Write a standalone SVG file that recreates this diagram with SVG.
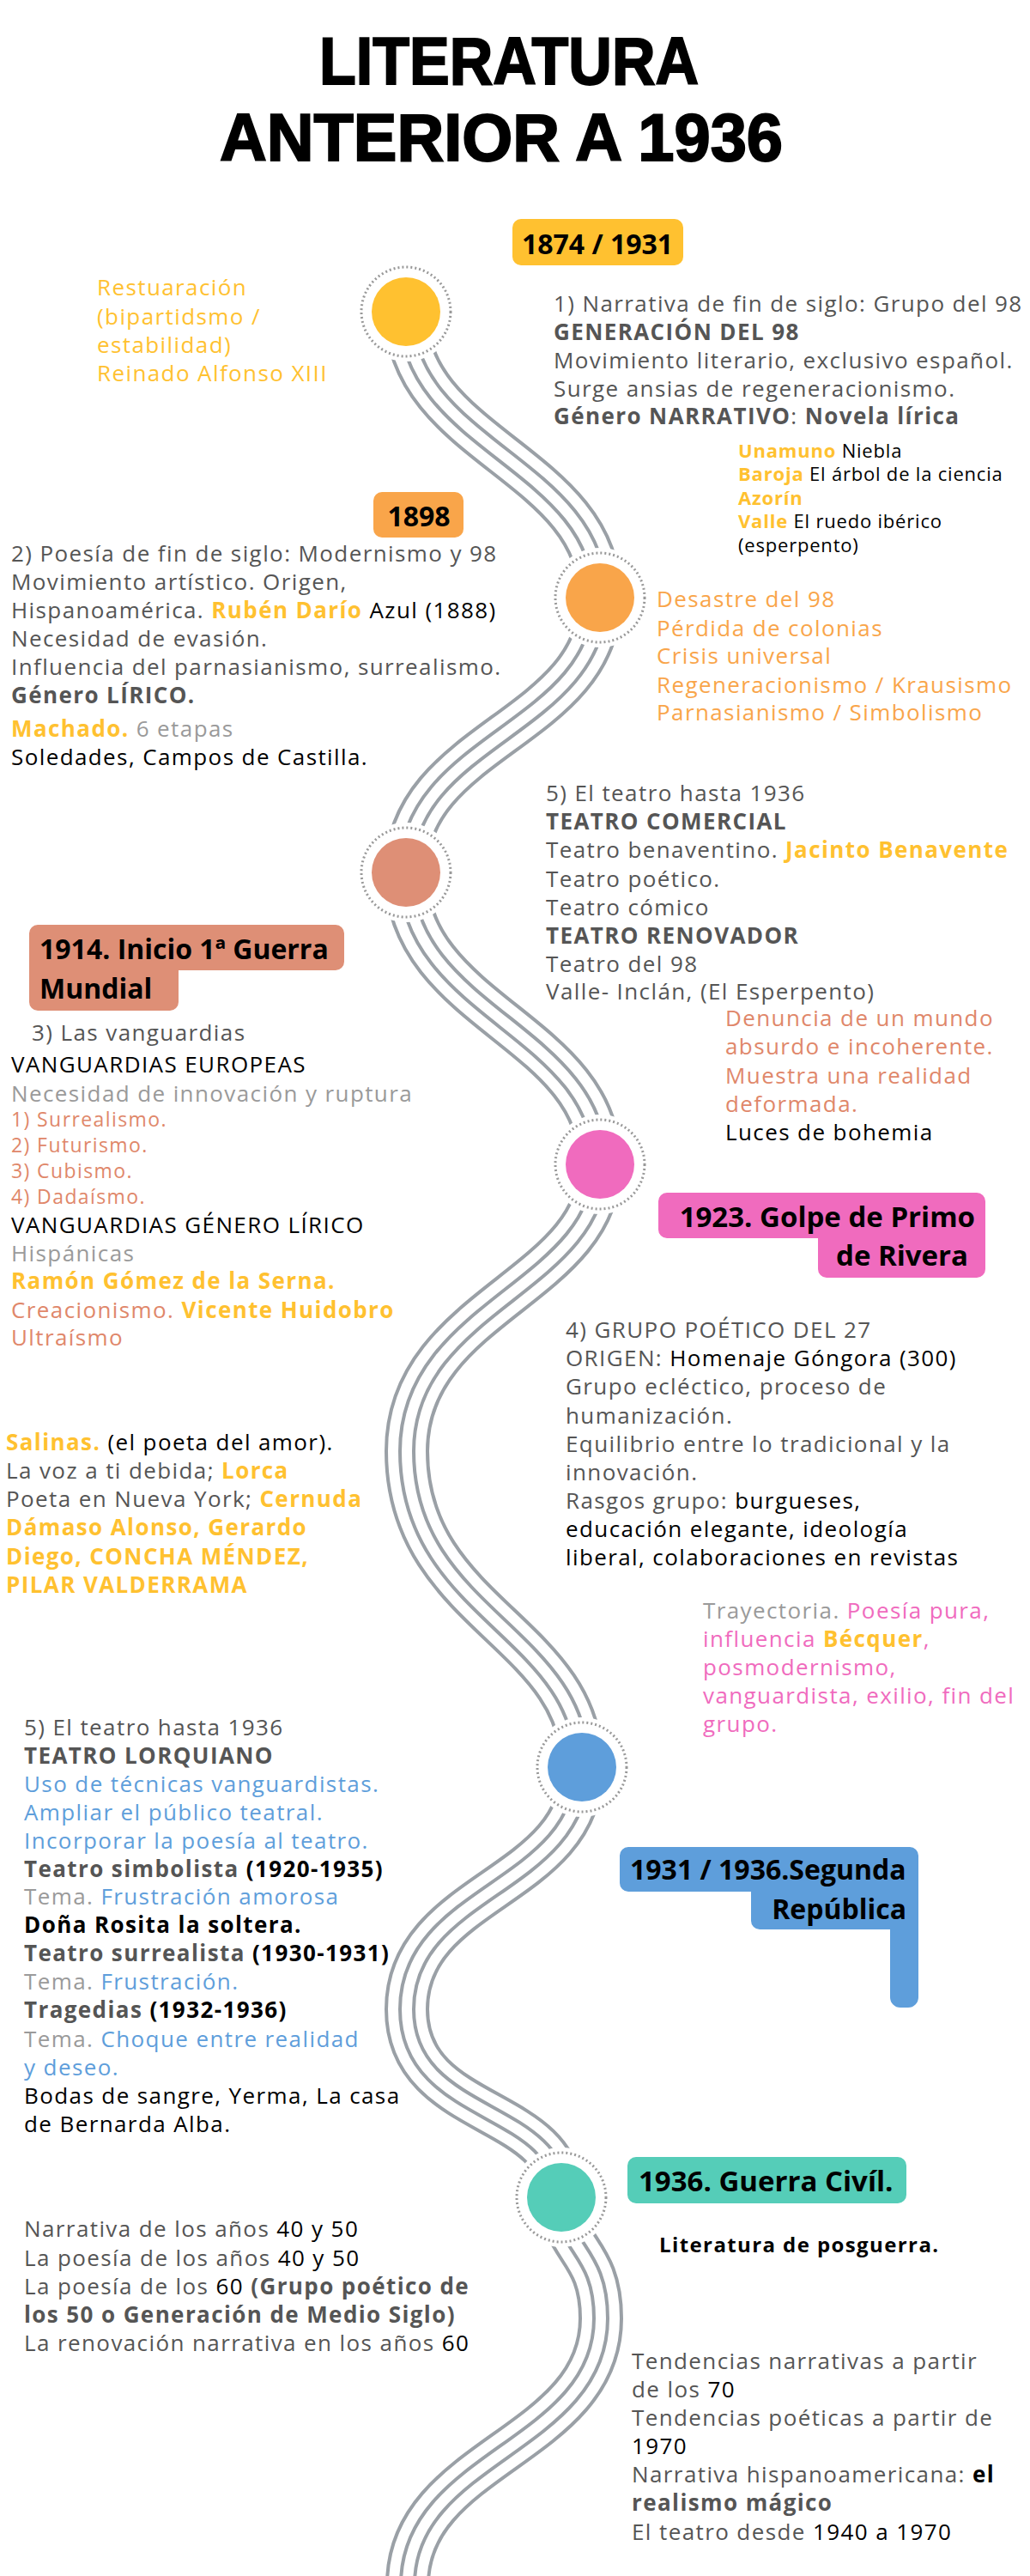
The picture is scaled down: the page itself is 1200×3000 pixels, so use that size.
<svg xmlns="http://www.w3.org/2000/svg" width="1200" height="3000" viewBox="0 0 1200 3000">
<style>
text{font-family:"Open Sans","Liberation Sans",sans-serif;font-size:26px;letter-spacing:1.4px;fill:#555}
.t{font-family:"Liberation Sans",sans-serif;font-weight:bold;fill:#000;font-size:78px;stroke:#000;stroke-width:2;letter-spacing:0}
.bd{font-family:"Open Sans","Liberation Sans",sans-serif;font-weight:bold;font-size:32px;fill:#000;letter-spacing:0}
.b{font-weight:bold}
.k{fill:#000}
.y{fill:#FFC130;font-weight:bold}
.yl{fill:#FFC130}
.o{fill:#F9A54A}
.s{fill:#E0876A}
.p{fill:#F06BBE}
.bl{fill:#5E9EDB}
.g{fill:#9a9a9a}
.sm{font-size:22px;letter-spacing:0.8px}
.sv{font-size:23px}
.w1{fill:none;stroke:#9AA0A6;stroke-width:52}
.w2{fill:none;stroke:#fff;stroke-width:44}
.w3{fill:none;stroke:#9AA0A6;stroke-width:20}
.w4{fill:none;stroke:#fff;stroke-width:12}
.ring{fill:#fff;stroke:#999;stroke-width:3;stroke-dasharray:2 3}
</style>
<defs>
<path id="wave" d="M473 363 C473 520 699 540 699 696 C699 850 473 860 473 1016 C473 1180 699 1200 699 1356 C699 1500 474 1520 474 1690 C474 1880 678 1900 678 2058 C678 2200 474 2200 474 2340 C474 2470 654 2450 654 2559 C654 2620 700 2620 700 2700 C700 2850 475 2860 475 3010"/>
</defs>
<text class="t" x="593" y="98" text-anchor="middle" textLength="442" lengthAdjust="spacingAndGlyphs">LITERATURA</text>
<text class="t" x="584" y="187" text-anchor="middle" textLength="656" lengthAdjust="spacingAndGlyphs">ANTERIOR A 1936</text>
<g id="connectors">
<use href="#wave" class="w1"/><use href="#wave" class="w2"/><use href="#wave" class="w3"/><use href="#wave" class="w4"/>
</g>
<g id="n1"><circle cx="473" cy="363" r="58" fill="#fff"/><circle class="ring" cx="473" cy="363" r="52"/><circle cx="473" cy="363" r="40" fill="#FFC130"/></g>
<g id="n2"><circle cx="699" cy="696" r="58" fill="#fff"/><circle class="ring" cx="699" cy="696" r="52"/><circle cx="699" cy="696" r="40" fill="#F9A54A"/></g>
<g id="n3"><circle cx="473" cy="1016" r="58" fill="#fff"/><circle class="ring" cx="473" cy="1016" r="52"/><circle cx="473" cy="1016" r="40" fill="#DE8F76"/></g>
<g id="n4"><circle cx="699" cy="1356" r="58" fill="#fff"/><circle class="ring" cx="699" cy="1356" r="52"/><circle cx="699" cy="1356" r="40" fill="#F06BBE"/></g>
<g id="n5"><circle cx="678" cy="2058" r="58" fill="#fff"/><circle class="ring" cx="678" cy="2058" r="52"/><circle cx="678" cy="2058" r="40" fill="#5E9EDB"/></g>
<g id="n6"><circle cx="654" cy="2559" r="58" fill="#fff"/><circle class="ring" cx="654" cy="2559" r="52"/><circle cx="654" cy="2559" r="40" fill="#55CDB8"/></g>

<g id="b1874"><rect x="597" y="255" width="199" height="54" rx="10" fill="#FFC130"/><text class="bd" x="696" y="296" text-anchor="middle">1874 / 1931</text></g>
<g id="restauracion">
<text class="yl" x="113" y="344">Restuaración</text><text class="yl" x="113" y="378">(bipartidsmo /</text><text class="yl" x="113" y="411">estabilidad)</text><text class="yl" x="113" y="444">Reinado Alfonso XIII</text>
</g>
<g id="narrativa">
<text x="645" y="363">1) Narrativa de fin de siglo: Grupo del 98</text>
<text x="645" y="396" class="b">GENERACIÓN DEL 98</text>
<text x="645" y="429">Movimiento literario, exclusivo español.</text>
<text x="645" y="462">Surge ansias de regeneracionismo.</text>
<text x="645" y="494"><tspan class="b">Género NARRATIVO</tspan>: <tspan class="b">Novela lírica</tspan></text>
</g>
<g id="autores">
<text class="sm k" x="860" y="533"><tspan class="y">Unamuno</tspan> Niebla</text>
<text class="sm k" x="860" y="560"><tspan class="y">Baroja</tspan> El árbol de la ciencia</text>
<text class="sm y" x="860" y="588">Azorín</text>
<text class="sm k" x="860" y="615"><tspan class="y">Valle</tspan> El ruedo ibérico</text>
<text class="sm k" x="860" y="643">(esperpento)</text>
</g>
<g id="b1898"><rect x="435" y="573" width="105" height="53" rx="10" fill="#F9A54A"/><text class="bd" x="488" y="613" text-anchor="middle">1898</text></g>
<g id="poesia">
<text x="13" y="654">2) Poesía de fin de siglo: Modernismo y 98</text>
<text x="13" y="687">Movimiento artístico. Origen,</text>
<text x="13" y="720">Hispanoamérica. <tspan class="y">Rubén Darío</tspan> <tspan class="k">Azul (1888)</tspan></text>
<text x="13" y="753">Necesidad de evasión.</text>
<text x="13" y="786">Influencia del parnasianismo, surrealismo.</text>
<text x="13" y="819" class="b">Género LÍRICO.</text>
<text x="13" y="858"><tspan class="y">Machado.</tspan><tspan class="g"> 6 etapas</tspan></text>
<text x="13" y="891" class="k">Soledades, Campos de Castilla.</text>
</g>
<g id="desastre">
<text class="o" x="765" y="707">Desastre del 98</text><text class="o" x="765" y="741">Pérdida de colonias</text><text class="o" x="765" y="773">Crisis universal</text><text class="o" x="765" y="807">Regeneracionismo / Krausismo</text><text class="o" x="765" y="839">Parnasianismo / Simbolismo</text>
</g>
<g id="teatro1">
<text x="636" y="933">5) El teatro hasta 1936</text>
<text x="636" y="966" class="b">TEATRO COMERCIAL</text>
<text x="636" y="999">Teatro benaventino. <tspan class="y">Jacinto Benavente</tspan></text>
<text x="636" y="1033">Teatro poético.</text>
<text x="636" y="1066">Teatro cómico</text>
<text x="636" y="1099" class="b">TEATRO RENOVADOR</text>
<text x="636" y="1132">Teatro del 98</text>
<text x="636" y="1164">Valle- Inclán, (El Esperpento)</text>
<text class="s" x="845" y="1195">Denuncia de un mundo</text>
<text class="s" x="845" y="1228">absurdo e incoherente.</text>
<text class="s" x="845" y="1262">Muestra una realidad</text>
<text class="s" x="845" y="1295">deformada.</text>
<text class="k" x="845" y="1328">Luces de bohemia</text>
</g>
<g id="b1914"><path d="M44 1077 H391 a10 10 0 0 1 10 10 V1120 a10 10 0 0 1 -10 10 H208 V1167 a10 10 0 0 1 -10 10 H44 a10 10 0 0 1 -10 -10 V1087 a10 10 0 0 1 10 -10 Z" fill="#DE8F76"/>
<text class="bd" x="46" y="1117">1914. Inicio 1ª Guerra</text><text class="bd" x="46" y="1163">Mundial</text></g>
<g id="vanguardias">
<text x="37" y="1212">3) Las vanguardias</text>
<text x="13" y="1249" class="k">VANGUARDIAS EUROPEAS</text>
<text x="13" y="1283" class="g">Necesidad de innovación y ruptura</text>
<text x="13" y="1312" class="s sv">1) Surrealismo.</text>
<text x="13" y="1342" class="s sv">2) Futurismo.</text>
<text x="13" y="1372" class="s sv">3) Cubismo.</text>
<text x="13" y="1402" class="s sv">4) Dadaísmo.</text>
<text x="13" y="1436" class="k">VANGUARDIAS GÉNERO LÍRICO</text>
<text x="13" y="1469" class="g">Hispánicas</text>
<text x="13" y="1501" class="y">Ramón Gómez de la Serna.</text>
<text x="13" y="1535" class="s">Creacionismo. <tspan class="y">Vicente Huidobro</tspan></text>
<text x="13" y="1567" class="s">Ultraísmo</text>
</g>
<g id="b1923"><path d="M777 1389 H1138 a10 10 0 0 1 10 10 V1478 a10 10 0 0 1 -10 10 H963 a10 10 0 0 1 -10 -10 V1442 H777 a10 10 0 0 1 -10 -10 V1399 a10 10 0 0 1 10 -10 Z" fill="#F06BBE"/>
<text class="bd" x="1136" y="1429" text-anchor="end" style="font-size:33px">1923. Golpe de Primo</text><text class="bd" x="1128" y="1474" text-anchor="end" style="font-size:33px">de Rivera</text></g>
<g id="grupo27">
<text x="659" y="1558">4) GRUPO POÉTICO DEL 27</text>
<text x="659" y="1591">ORIGEN: <tspan class="k">Homenaje Góngora (300)</tspan></text>
<text x="659" y="1624">Grupo ecléctico, proceso de</text>
<text x="659" y="1658">humanización.</text>
<text x="659" y="1691">Equilibrio entre lo tradicional y la</text>
<text x="659" y="1724">innovación.</text>
<text x="659" y="1757">Rasgos grupo: <tspan class="k">burgueses,</tspan></text>
<text x="659" y="1790" class="k">educación elegante, ideología</text>
<text x="659" y="1823" class="k">liberal, colaboraciones en revistas</text>
</g>
<g id="salinas">
<text x="7" y="1689"><tspan class="y">Salinas.</tspan><tspan class="k"> (el poeta del amor).</tspan></text>
<text x="7" y="1722">La voz a ti debida; <tspan class="y">Lorca</tspan></text>
<text x="7" y="1755">Poeta en Nueva York; <tspan class="y">Cernuda</tspan></text>
<text x="7" y="1788" class="y">Dámaso Alonso, Gerardo</text>
<text x="7" y="1822" class="y">Diego, CONCHA MÉNDEZ,</text>
<text x="7" y="1855" class="y">PILAR VALDERRAMA</text>
</g>
<g id="trayectoria">
<text x="819" y="1885"><tspan class="g">Trayectoria. </tspan><tspan class="p">Poesía pura,</tspan></text>
<text x="819" y="1918" class="p">influencia <tspan class="y">Bécquer</tspan>,</text>
<text x="819" y="1951" class="p">posmodernismo,</text>
<text x="819" y="1984" class="p">vanguardista, exilio, fin del</text>
<text x="819" y="2017" class="p">grupo.</text>
</g>
<g id="lorquiano">
<text x="28" y="2021">5) El teatro hasta 1936</text>
<text x="28" y="2054" class="b">TEATRO LORQUIANO</text>
<text x="28" y="2087" class="bl">Uso de técnicas vanguardistas.</text>
<text x="28" y="2120" class="bl">Ampliar el público teatral.</text>
<text x="28" y="2153" class="bl">Incorporar la poesía al teatro.</text>
<text x="28" y="2186" class="b">Teatro simbolista<tspan class="k"> (1920-1935)</tspan></text>
<text x="28" y="2218"><tspan class="g">Tema. </tspan><tspan class="bl">Frustración amorosa</tspan></text>
<text x="28" y="2251" class="b k">Doña Rosita la soltera.</text>
<text x="28" y="2284" class="b">Teatro surrealista<tspan class="k"> (1930-1931)</tspan></text>
<text x="28" y="2317"><tspan class="g">Tema. </tspan><tspan class="bl">Frustración.</tspan></text>
<text x="28" y="2350" class="b">Tragedias<tspan class="k"> (1932-1936)</tspan></text>
<text x="28" y="2384"><tspan class="g">Tema. </tspan><tspan class="bl">Choque entre realidad</tspan></text>
<text x="28" y="2417" class="bl">y deseo.</text>
<text x="28" y="2450" class="k">Bodas de sangre, Yerma, La casa</text>
<text x="28" y="2483" class="k">de Bernarda Alba.</text>
</g>
<g id="b1931"><path d="M732 2151 H1060 a10 10 0 0 1 10 10 V2326 a12 12 0 0 1 -12 12 H1049 a12 12 0 0 1 -12 -12 V2247 H885 a10 10 0 0 1 -10 -10 V2203 H732 a10 10 0 0 1 -10 -10 V2161 a10 10 0 0 1 10 -10 Z" fill="#5E9EDB"/>
<text class="bd" x="734" y="2189">1931 / 1936.Segunda</text><text class="bd" x="1056" y="2235" text-anchor="end">República</text></g>
<g id="b1936"><rect x="731" y="2512" width="325" height="54" rx="10" fill="#55CDB8"/><text class="bd" x="744" y="2552" style="font-size:33px">1936. Guerra Civíl.</text></g>
<text x="768" y="2623" class="b k" style="font-size:24px">Literatura de posguerra.</text>
<g id="posguerra1">
<text x="28" y="2605">Narrativa de los años <tspan class="k">40 y 50</tspan></text>
<text x="28" y="2639">La poesía de los años <tspan class="k">40 y 50</tspan></text>
<text x="28" y="2672">La poesía de los <tspan class="k">60</tspan><tspan class="b"> (Grupo poético de</tspan></text>
<text x="28" y="2705" class="b">los 50 o Generación de Medio Siglo)</text>
<text x="28" y="2738">La renovación narrativa en los años <tspan class="k">60</tspan></text>
</g>
<g id="posguerra2">
<text x="736" y="2759">Tendencias narrativas a partir</text>
<text x="736" y="2792">de los <tspan class="k">70</tspan></text>
<text x="736" y="2825">Tendencias poéticas a partir de</text>
<text x="736" y="2858" class="k">1970</text>
<text x="736" y="2891">Narrativa hispanoamericana: <tspan class="b k">el</tspan></text>
<text x="736" y="2924" class="b">realismo mágico</text>
<text x="736" y="2958">El teatro desde <tspan class="k">1940 a 1970</tspan></text>
</g>
</svg>
